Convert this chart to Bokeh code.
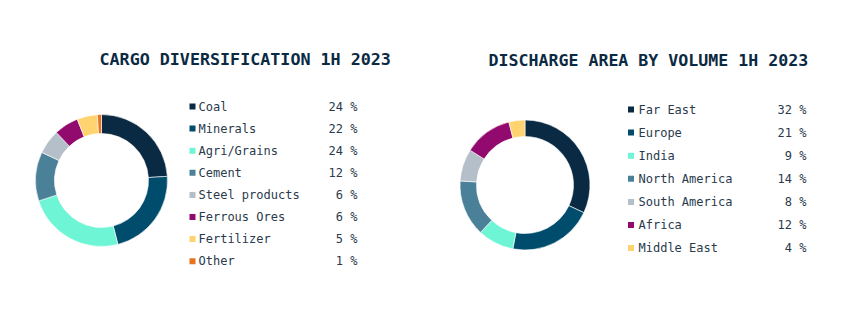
import numpy as np
from bokeh.plotting import figure
from bokeh.models import Range1d, ColumnDataSource
from bokeh.core.properties import value
from bokeh.embed import file_html
from bokeh.resources import INLINE

# ---- data ----
cargo_labels = ["Coal", "Minerals", "Agri/Grains", "Cement", "Steel products",
                "Ferrous Ores", "Fertilizer", "Other"]
cargo_values = [24, 22, 24, 12, 6, 6, 5, 1]
cargo_colors = ["#0A2A43", "#004C6D", "#6DF5D5", "#4A8199", "#B5BFC9",
                "#930A6E", "#FFD470", "#E8731E"]

area_labels = ["Far East", "Europe", "India", "North America", "South America",
               "Africa", "Middle East"]
area_values = [32, 21, 9, 14, 8, 12, 4]
area_colors = ["#0A2A43", "#004C6D", "#6DF5D5", "#4A8199", "#B5BFC9",
               "#930A6E", "#FFD470"]

titles = ["CARGO DIVERSIFICATION 1H 2023", "DISCHARGE AREA BY VOLUME 1H 2023"]

W, H = 865, 328
p = figure(width=W, height=H, output_backend="svg", toolbar_location=None,
           x_range=Range1d(0, W), y_range=Range1d(0, H), min_border=0,
           background_fill_color="white", border_fill_color="white")
p.axis.visible = False
p.grid.visible = False
p.outline_line_color = None

MONO = "DejaVu Sans Mono"
TITLE_COLOR = "#0B2A42"
TEXT_COLOR = "#2A3A4C"


def panel(labels, values, colors, title, cx, cy, r_in, r_out,
          title_x, title_y, title_size, sq_x, text_x, pct_right, row0, step):
    vals = np.array(values, dtype=float)
    frac = vals / vals.sum()
    cum = np.concatenate([[0], np.cumsum(frac)])
    start = np.pi / 2 - 2 * np.pi * cum[:-1]
    end = np.pi / 2 - 2 * np.pi * cum[1:]
    src = ColumnDataSource(dict(start=start, end=end, color=colors))
    p.annular_wedge(x=cx, y=H - cy, inner_radius=r_in, outer_radius=r_out,
                    inner_radius_units="screen", outer_radius_units="screen",
                    start_angle="start", end_angle="end", direction="clock",
                    fill_color="color", line_color="white", line_width=0.6,
                    source=src)
    p.text(x=[title_x], y=[H - title_y], text=[title],
           text_font=value(MONO), text_font_style="bold",
           text_font_size=title_size, text_color=TITLE_COLOR,
           text_baseline="middle", text_align="left")
    n = len(labels)
    ys = [H - (row0 + i * step) for i in range(n)]
    p.rect(x=[sq_x] * n, y=ys, width=6, height=6,
           width_units="screen", height_units="screen",
           fill_color=colors, line_color=None)
    p.text(x=[text_x] * n, y=ys, text=labels, text_font=value(MONO),
           text_font_size="12px", text_color=TEXT_COLOR,
           text_baseline="middle", text_align="left")
    p.text(x=[pct_right] * n, y=ys, text=[f"{v} %" for v in values],
           text_font=value(MONO), text_font_size="12px",
           text_color=TEXT_COLOR, text_baseline="middle",
           text_align="right")


panel(cargo_labels, cargo_values, cargo_colors, titles[0],
      cx=101, cy=180, r_in=47, r_out=66,
      title_x=99, title_y=58, title_size="16.7px",
      sq_x=192, text_x=198, pct_right=357,
      row0=106, step=22.1)

panel(area_labels, area_values, area_colors, titles[1],
      cx=524.5, cy=184.5, r_in=48.5, r_out=65,
      title_x=488, title_y=60, title_size="16.6px",
      sq_x=630.5, text_x=638, pct_right=806,
      row0=109, step=23.1)

open("out.html", "w").write(file_html(p, INLINE))
